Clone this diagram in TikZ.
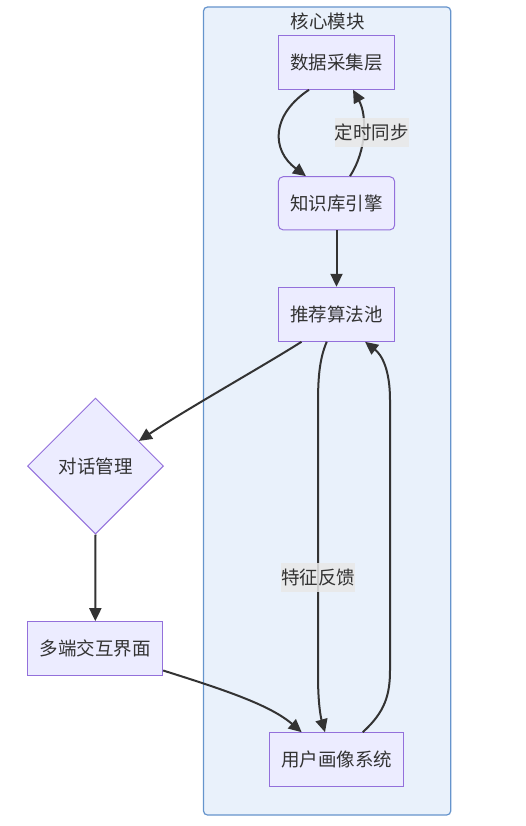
\documentclass[tikz,border=0pt]{standalone}
\usepackage{fontspec}
\newfontfamily\cjk{Noto Sans CJK SC}
\usetikzlibrary{arrows.meta,shapes.geometric}
\definecolor{nodefill}{HTML}{ECECFF}
\definecolor{nodeline}{HTML}{9370DB}
\definecolor{grpfill}{HTML}{E9F1FB}
\definecolor{grpline}{HTML}{6594CC}
\definecolor{txt}{HTML}{333333}
\definecolor{edge}{HTML}{333333}
\definecolor{lblfill}{HTML}{E8E8E8}
\tikzset{
  base/.style={font=\cjk\fontsize{18.5}{20}\selectfont, text=txt},
  box/.style={base, draw=nodeline, fill=nodefill, line width=1pt, inner sep=0pt},
  dia/.style={base, diamond, aspect=1, draw=nodeline, fill=nodefill, line width=1pt, inner sep=0pt, minimum width=136pt, minimum height=136pt},
  conn/.style={draw=edge, line width=2pt, -{Triangle[length=13pt,width=12pt]}},
  elabel/.style={base, fill=lblfill, fill opacity=0.85, text opacity=1, inner xsep=0pt, inner ysep=0pt, minimum height=29pt, minimum width=73pt},
}
\begin{document}
\begin{tikzpicture}[x=1pt,y=-1pt]
\useasboundingbox (0,0) rectangle (525,826);
% group
\path[draw=grpline, fill=grpfill, line width=1.2pt, rounded corners=4pt] (203.5,7) rectangle (450.7,815);
\node[base] (title) at (327.5,21) {核心模块};
% nodes
\node[box, minimum width=116.4pt, minimum height=54pt] (n1) at (336.5,62.3) {数据采集层};
\node[box, rounded corners=5pt, minimum width=116.4pt, minimum height=53.3pt] (n2) at (336.5,203.3) {知识库引擎};
\node[box, minimum width=116.4pt, minimum height=54pt] (n3) at (336.5,314.3) {推荐算法池};
\node[dia] (n4) at (95.5,466) {对话管理};
\node[box, minimum width=134.7pt, minimum height=53.6pt] (n5) at (95.3,648.5) {多端交互界面};
\node[box, minimum width=134.4pt, minimum height=54pt] (n6) at (336.5,759.7) {用户画像系统};
% edges
\draw[conn] ([xshift=-27.5pt]n1.south) .. controls (271,115) and (271,150) .. ([xshift=-30.5pt]n2.north);
\draw[conn] ([xshift=13.5pt]n2.north) .. controls (367,150) and (367,115) .. ([xshift=16.5pt]n1.south);
\node[elabel] (l1) at (371.7,132.5) {定时同步};
\draw[conn] (n2.south) -- (n3.north);
\draw[conn] ([xshift=-35pt]n3.south) .. controls (265,365) and (185,410) .. (n4.30);
\draw[conn] (n4.south) -- (n5.north);
\draw[conn] ([yshift=-22pt]n5.east) .. controls (225,690) and (270,705) .. ([xshift=-34.8pt]n6.north);
\draw[conn] ([xshift=-9.8pt]n3.south) .. controls (319,360) and (318,380) .. (318,405) -- (318,675) .. controls (318,705) and (321,718) .. ([xshift=-11.5pt]n6.north);
\draw[conn] ([xshift=26.2pt]n6.north) .. controls (385,712) and (390,695) .. (390,670) -- (390,400) .. controls (390,370) and (382,355) .. ([xshift=28.5pt]n3.south);
\node[elabel] (l2) at (318,577.7) {特征反馈};
\end{tikzpicture}
\end{document}
